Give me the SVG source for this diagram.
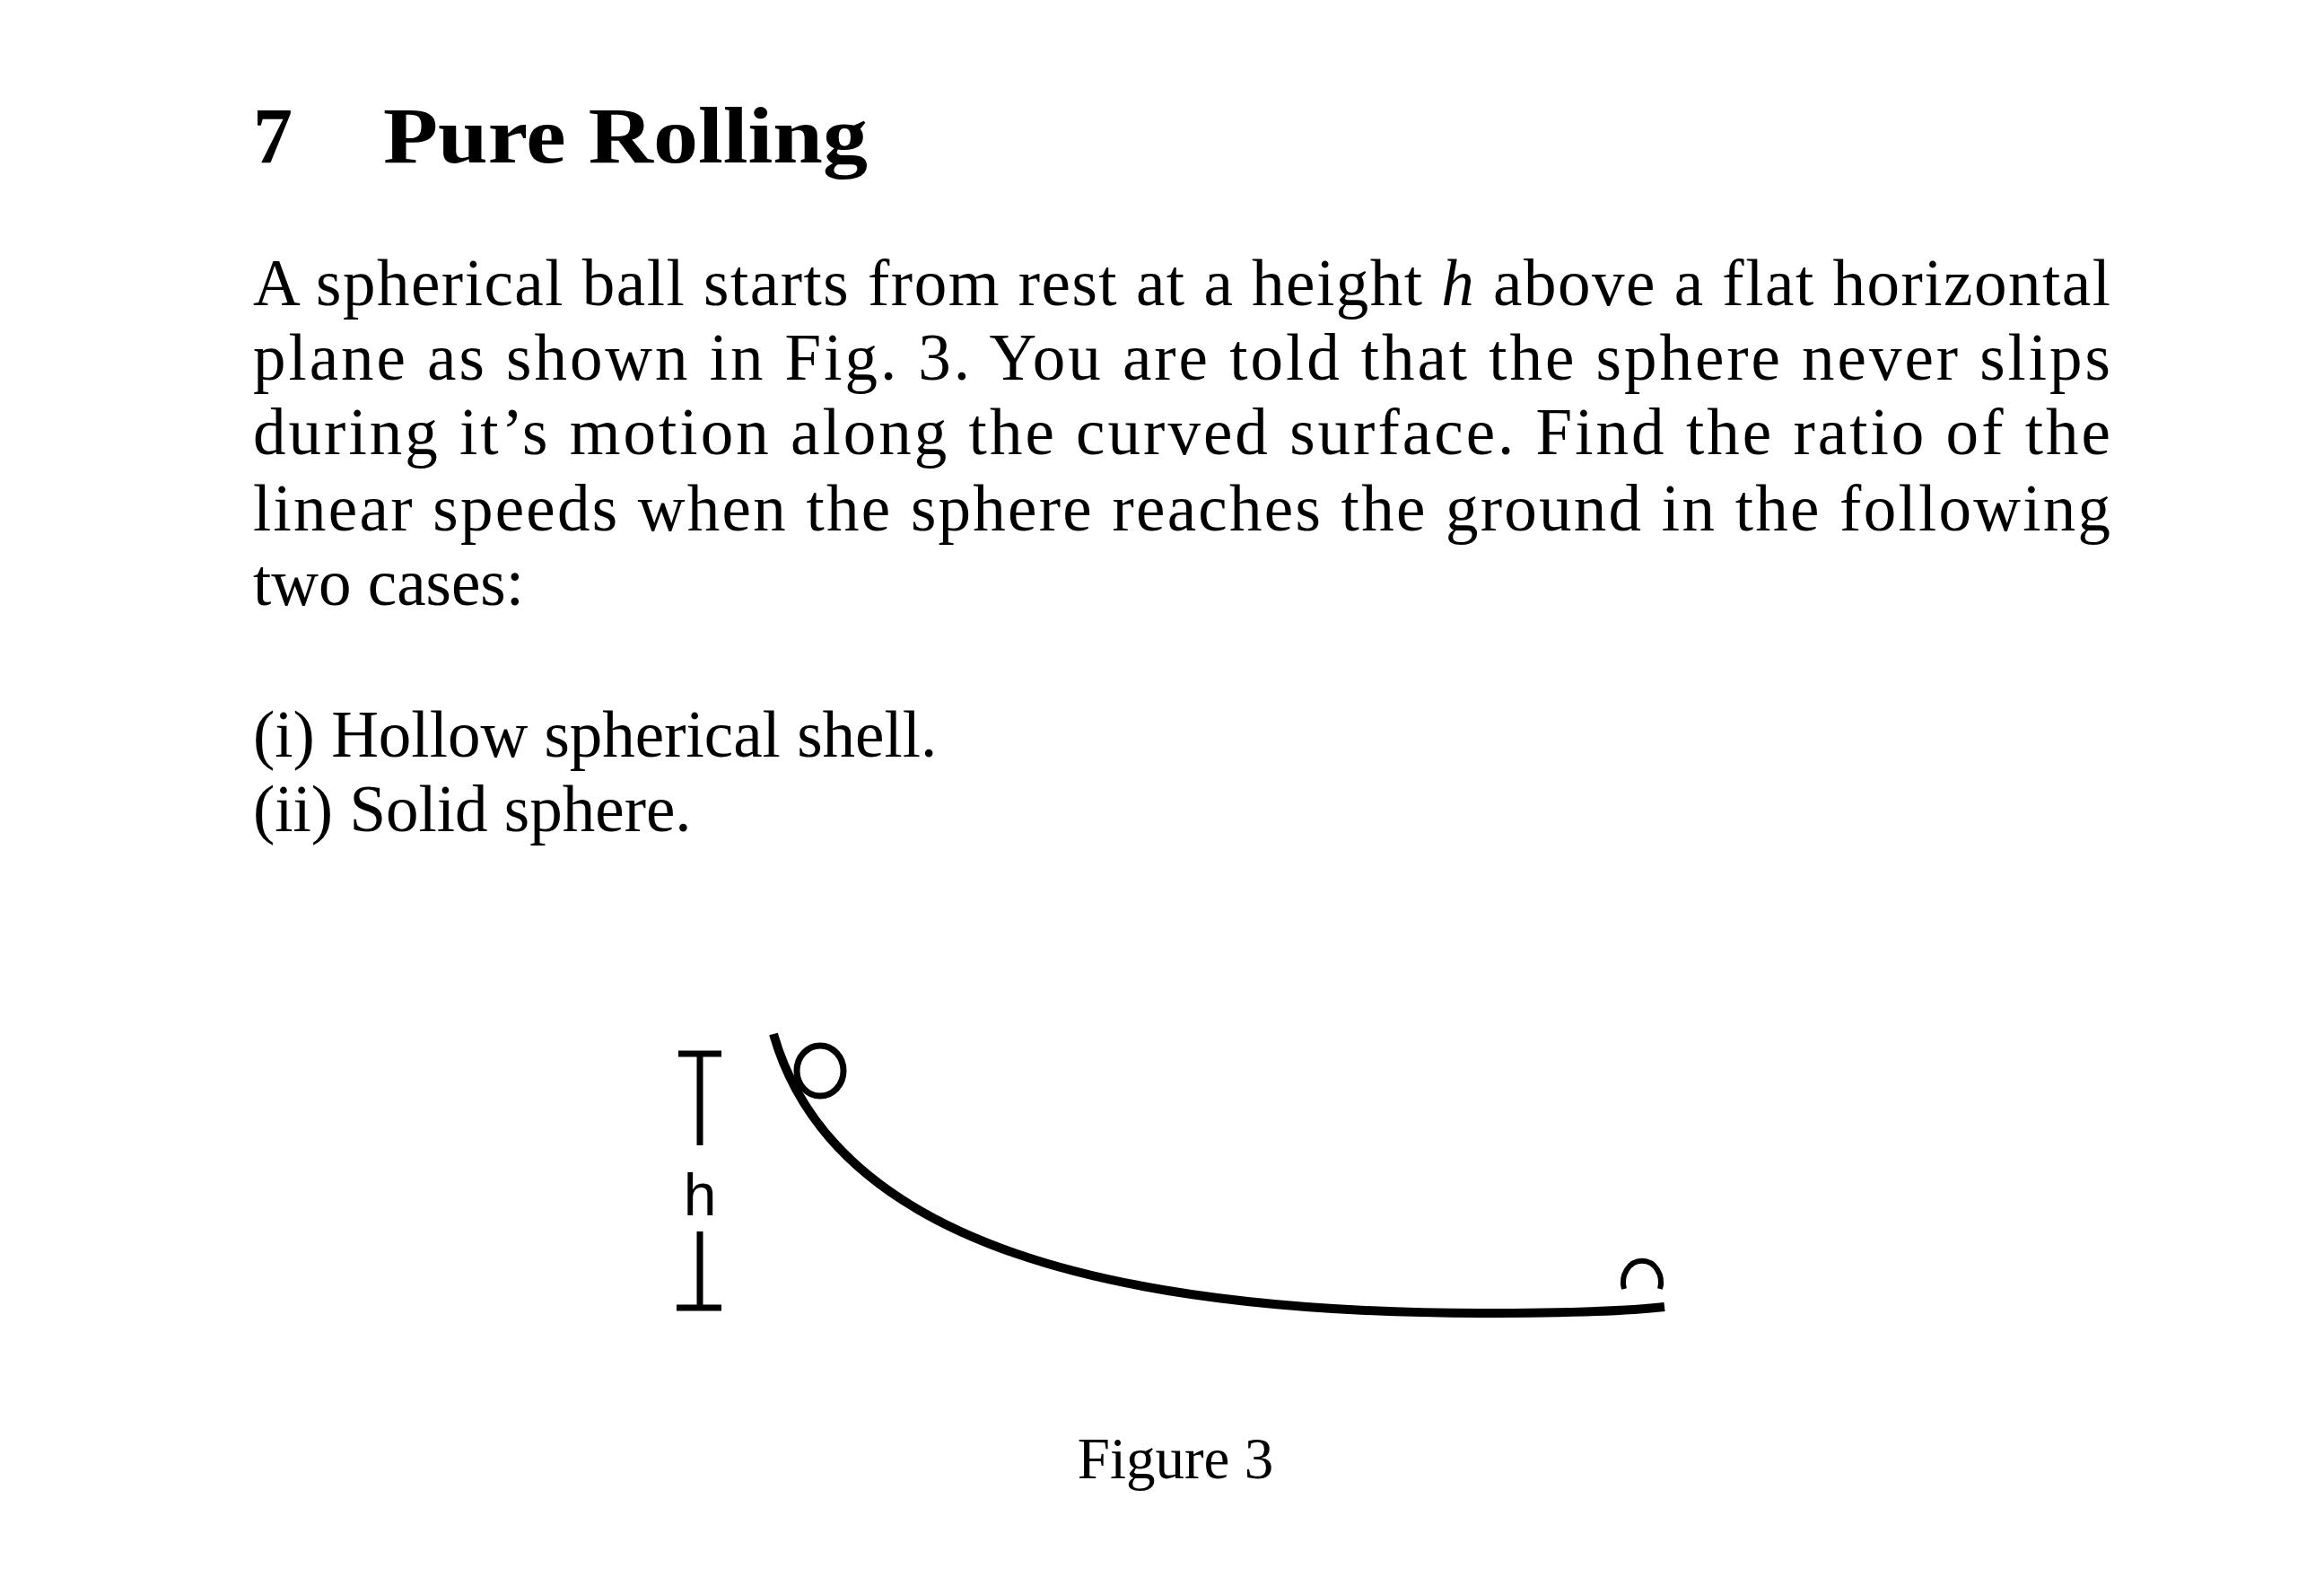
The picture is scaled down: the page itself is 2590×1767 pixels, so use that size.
<svg xmlns="http://www.w3.org/2000/svg" width="2590" height="1767" viewBox="0 0 2590 1767">
<style>
.t{font-family:"Liberation Serif",serif;fill:#000}
.b{font-size:73px}
.s{stroke:#000;fill:none}
</style>
<rect width="2590" height="1767" fill="#fff"/>
<text class="t" x="282" y="181" font-size="88" font-weight="bold">7</text>
<text class="t" x="427" y="181" font-size="88" font-weight="bold" textLength="540" lengthAdjust="spacingAndGlyphs">Pure Rolling</text>
<text class="t b" x="282" y="340" textLength="2070" lengthAdjust="spacing">A spherical ball starts from rest at a height <tspan font-style="italic">h</tspan> above a flat horizontal</text>
<text class="t b" x="282" y="423" textLength="2070" lengthAdjust="spacing">plane as shown in Fig.  3.  You are told that the sphere never slips</text>
<text class="t b" x="282" y="506" textLength="2070" lengthAdjust="spacing">during it’s motion along the curved surface.  Find the ratio of the</text>
<text class="t b" x="282" y="591" textLength="2070" lengthAdjust="spacing">linear speeds when the sphere reaches the ground in the following</text>
<text class="t b" x="282" y="674">two cases:</text>
<text class="t b" x="282" y="843">(i) Hollow spherical shell.</text>
<text class="t b" x="282" y="926">(ii) Solid sphere.</text>
<g id="figure">
<g id="height">
<path class="s" stroke-width="7" d="M756 1174H804M780 1174V1276M780 1372V1457M754 1457H804"/>
<text x="780" y="1354" font-family="Liberation Sans,sans-serif" font-size="66" text-anchor="middle">h</text>
</g>
<g id="ball-top"><ellipse class="s" stroke-width="7" cx="914" cy="1193" rx="26" ry="28"/></g>
<g id="ball-bottom"><path class="s" stroke-width="6" d="M1810 1436A21 24 0 1 1 1850 1436"/></g>
<g id="surface"><path class="s" stroke-width="10" d="M862 1152C930 1390 1250 1462 1650 1463C1750 1463 1820 1460 1855 1456"/></g>
</g>
<text class="t" x="1310" y="1647" font-size="65" text-anchor="middle">Figure 3</text>
</svg>
